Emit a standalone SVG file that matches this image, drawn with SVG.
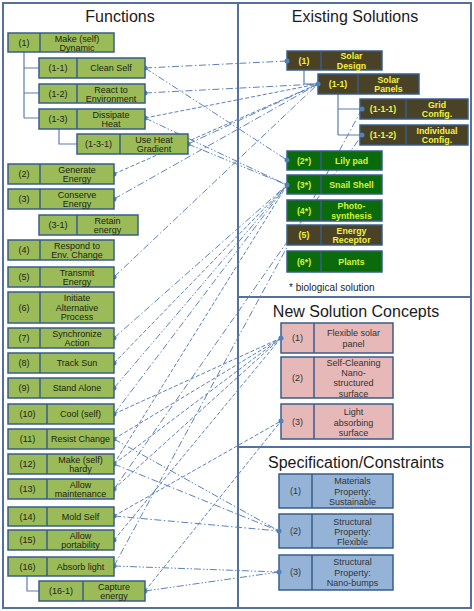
<svg xmlns="http://www.w3.org/2000/svg" width="474" height="611" viewBox="0 0 474 611">
<defs>
<style>
.frame{fill:none;stroke:#53709E;stroke-width:2}
.fn{fill:#9BBB59;stroke:#385D8A;stroke-width:1.5}
.dk{fill:#4A4226;stroke:#385D8A;stroke-width:1.5}
.gr{fill:#0B6A0B;stroke:#385D8A;stroke-width:1.5}
.pk{fill:#E6B9B8;stroke:#385D8A;stroke-width:1.5}
.bl{fill:#95B3D7;stroke:#385D8A;stroke-width:1.5}
.sp{stroke:#385D8A;stroke-width:1.5}
.tree{stroke:#5A7DB0;stroke-width:1.2;fill:none}
.title{font-family:"Liberation Sans",Arial,sans-serif;font-size:16px;fill:#1a1a1a;text-anchor:middle}
.ft{font-family:"Liberation Sans",Arial,sans-serif;font-size:9px;fill:#1c2410;text-anchor:middle}
.yt{font-family:"Liberation Sans",Arial,sans-serif;font-size:8.8px;font-weight:bold;fill:#F2F240;text-anchor:middle}
.gt{font-family:"Liberation Sans",Arial,sans-serif;font-size:8.8px;font-weight:bold;fill:#D4F53A;text-anchor:middle}
.nt{font-family:"Liberation Sans",Arial,sans-serif;font-size:9px;fill:#333;text-anchor:middle}
.note{font-family:"Liberation Sans",Arial,sans-serif;font-size:10px;fill:#222}
.c1{stroke:#5B82BA;stroke-width:1;fill:none;stroke-dasharray:7 2.5 1.5 2.5}
.c2{stroke:#5B82BA;stroke-width:1;fill:none;stroke-dasharray:7 2 1.5 2 1.5 2}
.c3{stroke:#5B82BA;stroke-width:1;fill:none;stroke-dasharray:4 2}
.dot{fill:#4F81BD}
</style>
</defs>
<rect x="0" y="0" width="474" height="611" fill="#ffffff"/>
<g id="frame">
<rect class="frame" x="3" y="3" width="468" height="605"/>
<line class="frame" x1="238" y1="3" x2="238" y2="608"/>
<line class="frame" x1="238" y1="297" x2="471" y2="297"/>
<line class="frame" x1="238" y1="447" x2="471" y2="447"/>
<text class="title" x="120" y="22">Functions</text>
<text class="title" x="355" y="22">Existing Solutions</text>
<text class="title" x="356" y="317">New Solution Concepts</text>
<text class="title" x="356" y="468">Specification/Constraints</text>
<text class="note" x="289" y="290.5">* biological solution</text>
</g>
<g id="trees">
<path class="tree" d="M24 52V118M24 68H39M24 93H39M24 118H39"/>
<path class="tree" d="M59 129V144H77"/>
<path class="tree" d="M27 576V591H39"/>
<path class="tree" d="M304 70V84H318"/>
<path class="tree" d="M338 94V135M338 109H360M338 135H360"/>
</g>
<g id="connectors">
<line class="c1" x1="145" y1="68" x2="287" y2="61"/>
<line class="c2" x1="145" y1="68" x2="287" y2="160"/>
<line class="c1" x1="145" y1="93" x2="318" y2="84"/>
<line class="c3" x1="145" y1="118" x2="318" y2="84"/>
<line class="c2" x1="145" y1="118" x2="287" y2="185"/>
<line class="c1" x1="188" y1="144" x2="318" y2="84"/>
<line class="c2" x1="188" y1="144" x2="287" y2="185"/>
<line class="c3" x1="114" y1="174" x2="318" y2="84"/>
<line class="c1" x1="114" y1="199" x2="318" y2="84"/>
<line class="c1" x1="114" y1="277" x2="318" y2="84"/>
<line class="c1" x1="114" y1="338" x2="287" y2="185"/>
<line class="c3" x1="114" y1="363" x2="287" y2="185"/>
<line class="c2" x1="114" y1="388" x2="287" y2="185"/>
<line class="c1" x1="114" y1="414" x2="287" y2="185"/>
<line class="c3" x1="114" y1="464" x2="287" y2="185"/>
<line class="c1" x1="114" y1="489" x2="362" y2="135"/>
<line class="c1" x1="114" y1="566" x2="362" y2="109"/>
<line class="c3" x1="114" y1="414" x2="281" y2="338"/>
<line class="c3" x1="114" y1="439" x2="281" y2="338"/>
<line class="c3" x1="114" y1="464" x2="281" y2="338"/>
<line class="c3" x1="114" y1="489" x2="281" y2="338"/>
<line class="c3" x1="114" y1="540" x2="281" y2="338"/>
<line class="c3" x1="114" y1="516" x2="281" y2="421"/>
<line class="c3" x1="145" y1="591" x2="281" y2="421"/>
<line class="c2" x1="114" y1="439" x2="279" y2="531"/>
<line class="c1" x1="114" y1="464" x2="279" y2="531"/>
<line class="c1" x1="114" y1="516" x2="279" y2="531"/>
<line class="c2" x1="114" y1="566" x2="279" y2="572"/>
<line class="c2" x1="145" y1="591" x2="279" y2="572"/>
<circle class="dot" cx="145" cy="68" r="2.5"/>
<circle class="dot" cx="145" cy="93" r="2.5"/>
<circle class="dot" cx="145" cy="118" r="2.5"/>
<circle class="dot" cx="188" cy="144" r="2.5"/>
<circle class="dot" cx="114" cy="174" r="2.5"/>
<circle class="dot" cx="114" cy="199" r="2.5"/>
<circle class="dot" cx="114" cy="277" r="2.5"/>
<circle class="dot" cx="114" cy="338" r="2.5"/>
<circle class="dot" cx="114" cy="363" r="2.5"/>
<circle class="dot" cx="114" cy="388" r="2.5"/>
<circle class="dot" cx="114" cy="414" r="2.5"/>
<circle class="dot" cx="114" cy="439" r="2.5"/>
<circle class="dot" cx="114" cy="464" r="2.5"/>
<circle class="dot" cx="114" cy="489" r="2.5"/>
<circle class="dot" cx="114" cy="516" r="2.5"/>
<circle class="dot" cx="114" cy="540" r="2.5"/>
<circle class="dot" cx="114" cy="566" r="2.5"/>
<circle class="dot" cx="145" cy="591" r="2.5"/>
</g>
<g id="f1"><rect class="fn" x="8" y="33" width="106" height="19"/><line class="sp" x1="40" y1="33" x2="40" y2="52"/><text class="ft" x="24" y="45.5">(1)</text><text class="ft" x="77" y="41.5">Make (self)</text><text class="ft" x="77" y="51">Dynamic</text></g>
<g id="f1-1"><rect class="fn" x="39" y="58" width="106" height="20"/><line class="sp" x1="77" y1="58" x2="77" y2="78"/><text class="ft" x="58" y="71">(1-1)</text><text class="ft" x="111" y="71">Clean Self</text></g>
<g id="f1-2"><rect class="fn" x="39" y="84" width="106" height="19"/><line class="sp" x1="77" y1="84" x2="77" y2="103"/><text class="ft" x="58" y="96.5">(1-2)</text><text class="ft" x="111" y="92.5">React to</text><text class="ft" x="111" y="102">Environment</text></g>
<g id="f1-3"><rect class="fn" x="39" y="109" width="106" height="20"/><line class="sp" x1="77" y1="109" x2="77" y2="129"/><text class="ft" x="58" y="122">(1-3)</text><text class="ft" x="111" y="117.5">Dissipate</text><text class="ft" x="111" y="127">Heat</text></g>
<g id="f1-3-1"><rect class="fn" x="77" y="134" width="111" height="20"/><line class="sp" x1="120" y1="134" x2="120" y2="154"/><text class="ft" x="98.5" y="147">(1-3-1)</text><text class="ft" x="154" y="142.5">Use Heat</text><text class="ft" x="154" y="152">Gradient</text></g>
<g id="f2"><rect class="fn" x="8" y="164" width="106" height="20"/><line class="sp" x1="40" y1="164" x2="40" y2="184"/><text class="ft" x="24" y="177">(2)</text><text class="ft" x="77" y="172.5">Generate</text><text class="ft" x="77" y="182">Energy</text></g>
<g id="f3"><rect class="fn" x="8" y="189" width="106" height="20"/><line class="sp" x1="40" y1="189" x2="40" y2="209"/><text class="ft" x="24" y="202">(3)</text><text class="ft" x="77" y="197.5">Conserve</text><text class="ft" x="77" y="207">Energy</text></g>
<g id="f3-1"><rect class="fn" x="39" y="215" width="99" height="20"/><line class="sp" x1="77" y1="215" x2="77" y2="235"/><text class="ft" x="58" y="228">(3-1)</text><text class="ft" x="107.5" y="223.5">Retain</text><text class="ft" x="107.5" y="233">energy</text></g>
<g id="f4"><rect class="fn" x="8" y="240" width="106" height="20"/><line class="sp" x1="40" y1="240" x2="40" y2="260"/><text class="ft" x="24" y="253">(4)</text><text class="ft" x="77" y="248.5">Respond to</text><text class="ft" x="77" y="258">Env. Change</text></g>
<g id="f5"><rect class="fn" x="8" y="267" width="106" height="20"/><line class="sp" x1="40" y1="267" x2="40" y2="287"/><text class="ft" x="24" y="280">(5)</text><text class="ft" x="77" y="275.5">Transmit</text><text class="ft" x="77" y="285">Energy</text></g>
<g id="f6"><rect class="fn" x="8" y="292" width="106" height="31"/><line class="sp" x1="40" y1="292" x2="40" y2="323"/><text class="ft" x="24" y="310.5">(6)</text><text class="ft" x="77" y="301">Initiate</text><text class="ft" x="77" y="310.5">Alternative</text><text class="ft" x="77" y="320">Process</text></g>
<g id="f7"><rect class="fn" x="8" y="328" width="106" height="20"/><line class="sp" x1="40" y1="328" x2="40" y2="348"/><text class="ft" x="24" y="341">(7)</text><text class="ft" x="77" y="336.5">Synchronize</text><text class="ft" x="77" y="346">Action</text></g>
<g id="f8"><rect class="fn" x="8" y="353" width="106" height="20"/><line class="sp" x1="40" y1="353" x2="40" y2="373"/><text class="ft" x="24" y="366">(8)</text><text class="ft" x="77" y="366">Track Sun</text></g>
<g id="f9"><rect class="fn" x="8" y="378" width="106" height="20"/><line class="sp" x1="40" y1="378" x2="40" y2="398"/><text class="ft" x="24" y="391">(9)</text><text class="ft" x="77" y="391">Stand Alone</text></g>
<g id="f10"><rect class="fn" x="8" y="404" width="106" height="20"/><line class="sp" x1="47" y1="404" x2="47" y2="424"/><text class="ft" x="27.5" y="417">(10)</text><text class="ft" x="80.5" y="417">Cool (self)</text></g>
<g id="f11"><rect class="fn" x="8" y="429" width="106" height="20"/><line class="sp" x1="47" y1="429" x2="47" y2="449"/><text class="ft" x="27.5" y="442">(11)</text><text class="ft" x="80.5" y="442">Resist Change</text></g>
<g id="f12"><rect class="fn" x="8" y="454" width="106" height="20"/><line class="sp" x1="47" y1="454" x2="47" y2="474"/><text class="ft" x="27.5" y="467">(12)</text><text class="ft" x="80.5" y="462.5">Make (self)</text><text class="ft" x="80.5" y="472">hardy</text></g>
<g id="f13"><rect class="fn" x="8" y="479" width="106" height="20"/><line class="sp" x1="47" y1="479" x2="47" y2="499"/><text class="ft" x="27.5" y="492">(13)</text><text class="ft" x="80.5" y="487.5">Allow</text><text class="ft" x="80.5" y="497">maintenance</text></g>
<g id="f14"><rect class="fn" x="8" y="507" width="106" height="19"/><line class="sp" x1="47" y1="507" x2="47" y2="526"/><text class="ft" x="27.5" y="519.5">(14)</text><text class="ft" x="80.5" y="519.5">Mold Self</text></g>
<g id="f15"><rect class="fn" x="8" y="530" width="106" height="20"/><line class="sp" x1="47" y1="530" x2="47" y2="550"/><text class="ft" x="27.5" y="543">(15)</text><text class="ft" x="80.5" y="538.5">Allow</text><text class="ft" x="80.5" y="548">portability</text></g>
<g id="f16"><rect class="fn" x="8" y="557" width="106" height="19"/><line class="sp" x1="47" y1="557" x2="47" y2="576"/><text class="ft" x="27.5" y="569.5">(16)</text><text class="ft" x="80.5" y="569.5">Absorb light</text></g>
<g id="f16-1"><rect class="fn" x="39" y="581" width="106" height="20"/><line class="sp" x1="83" y1="581" x2="83" y2="601"/><text class="ft" x="61" y="594">(16-1)</text><text class="ft" x="114" y="589.5">Capture</text><text class="ft" x="114" y="599">energy</text></g>
<g id="e1"><rect class="dk" x="287" y="51" width="95" height="19"/><line class="sp" x1="321" y1="51" x2="321" y2="70"/><text class="yt" x="304" y="63.5">(1)</text><text class="yt" x="351.5" y="59">Solar</text><text class="yt" x="351.5" y="68.5">Design</text></g>
<g id="e1-1"><rect class="dk" x="318" y="74" width="101" height="20"/><line class="sp" x1="358" y1="74" x2="358" y2="94"/><text class="yt" x="338" y="87">(1-1)</text><text class="yt" x="388.5" y="82.5">Solar</text><text class="yt" x="388.5" y="92">Panels</text></g>
<g id="e1-1-1"><rect class="dk" x="360" y="99" width="108" height="20"/><line class="sp" x1="406" y1="99" x2="406" y2="119"/><text class="yt" x="383" y="112">(1-1-1)</text><text class="yt" x="437" y="107.5">Grid</text><text class="yt" x="437" y="117">Config.</text></g>
<g id="e1-1-2"><rect class="dk" x="360" y="125" width="108" height="20"/><line class="sp" x1="406" y1="125" x2="406" y2="145"/><text class="yt" x="383" y="138">(1-1-2)</text><text class="yt" x="437" y="133.5">Individual</text><text class="yt" x="437" y="143">Config.</text></g>
<g id="e2"><rect class="gr" x="287" y="151" width="95" height="19"/><line class="sp" x1="321" y1="151" x2="321" y2="170"/><text class="gt" x="304" y="163.5">(2*)</text><text class="gt" x="351.5" y="163.5">Lily pad</text></g>
<g id="e3"><rect class="gr" x="287" y="175" width="95" height="19"/><line class="sp" x1="321" y1="175" x2="321" y2="194"/><text class="gt" x="304" y="187.5">(3*)</text><text class="gt" x="351.5" y="187.5">Snail Shell</text></g>
<g id="e4"><rect class="gr" x="287" y="200" width="95" height="21"/><line class="sp" x1="321" y1="200" x2="321" y2="221"/><text class="gt" x="304" y="213.5">(4*)</text><text class="gt" x="351.5" y="209">Photo-</text><text class="gt" x="351.5" y="219">synthesis</text></g>
<g id="e5"><rect class="dk" x="287" y="225" width="95" height="20"/><line class="sp" x1="321" y1="225" x2="321" y2="245"/><text class="yt" x="304" y="238">(5)</text><text class="yt" x="351.5" y="233.5">Energy</text><text class="yt" x="351.5" y="243">Receptor</text></g>
<g id="e6"><rect class="gr" x="287" y="251" width="95" height="21"/><line class="sp" x1="321" y1="251" x2="321" y2="272"/><text class="gt" x="304" y="264.5">(6*)</text><text class="gt" x="351.5" y="264.5">Plants</text></g>
<g id="n1"><rect class="pk" x="281" y="323" width="112" height="30"/><line class="sp" x1="314" y1="323" x2="314" y2="353"/><text class="nt" x="297.5" y="341">(1)</text><text class="nt" x="353.5" y="336">Flexible solar</text><text class="nt" x="353.5" y="347">panel</text></g>
<g id="n2"><rect class="pk" x="281" y="357" width="112" height="41"/><line class="sp" x1="314" y1="357" x2="314" y2="398"/><text class="nt" x="297.5" y="380.5">(2)</text><text class="nt" x="353.5" y="366">Self-Cleaning</text><text class="nt" x="353.5" y="376">Nano-</text><text class="nt" x="353.5" y="386">structured</text><text class="nt" x="353.5" y="396.5">surface</text></g>
<g id="n3"><rect class="pk" x="281" y="404" width="112" height="35"/><line class="sp" x1="314" y1="404" x2="314" y2="439"/><text class="nt" x="297.5" y="424.5">(3)</text><text class="nt" x="353.5" y="415">Light</text><text class="nt" x="353.5" y="426">absorbing</text><text class="nt" x="353.5" y="436">surface</text></g>
<g id="s1"><rect class="bl" x="279" y="474" width="114" height="34"/><line class="sp" x1="312" y1="474" x2="312" y2="508"/><text class="nt" x="295.5" y="494">(1)</text><text class="nt" x="352.5" y="484">Materials</text><text class="nt" x="352.5" y="495">Property:</text><text class="nt" x="352.5" y="505">Sustainable</text></g>
<g id="s2"><rect class="bl" x="279" y="514" width="114" height="34"/><line class="sp" x1="312" y1="514" x2="312" y2="548"/><text class="nt" x="295.5" y="534">(2)</text><text class="nt" x="352.5" y="525">Structural</text><text class="nt" x="352.5" y="535">Property:</text><text class="nt" x="352.5" y="545">Flexible</text></g>
<g id="s3"><rect class="bl" x="279" y="555" width="114" height="35"/><line class="sp" x1="312" y1="555" x2="312" y2="590"/><text class="nt" x="295.5" y="575">(3)</text><text class="nt" x="352.5" y="565">Structural</text><text class="nt" x="352.5" y="576">Property:</text><text class="nt" x="352.5" y="586">Nano-bumps</text></g>
<g id="target-dots">
<circle class="dot" cx="287" cy="61" r="2.5"/>
<circle class="dot" cx="318" cy="84" r="2.5"/>
<circle class="dot" cx="362" cy="109" r="2.5"/>
<circle class="dot" cx="362" cy="135" r="2.5"/>
<circle class="dot" cx="287" cy="160" r="2.5"/>
<circle class="dot" cx="287" cy="185" r="2.5"/>
<circle class="dot" cx="281" cy="338" r="2.5"/>
<circle class="dot" cx="281" cy="421" r="2.5"/>
<circle class="dot" cx="279" cy="531" r="2.5"/>
<circle class="dot" cx="279" cy="572" r="2.5"/>
</g>
</svg>
